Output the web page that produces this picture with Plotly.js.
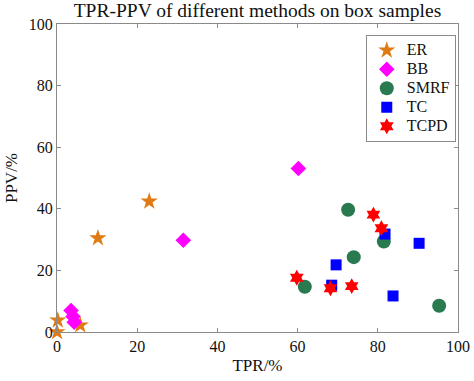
<!DOCTYPE html>
<html><head><meta charset="utf-8">
<script src="https://cdn.plot.ly/plotly-3.0.1.min.js"></script>
<style>html,body{margin:0;padding:0;background:#fff;}#chart{width:474px;height:381px;}</style>
</head><body><div id="chart"></div>
<script>
const seriesNames = ["ER", "BB", "SMRF", "TC", "TCPD"];
const erX = [0, 0.2, 5.8, 10.2, 23.0];
const erY = [0, 3.8, 2.2, 30.5, 42.4];
const bbX = [3.5, 4.0, 4.3, 31.5, 60.2];
const bbY = [7.0, 5.0, 3.2, 29.8, 53.1];
const smrfX = [72.6, 81.5, 74.0, 61.8, 95.3];
const smrfY = [39.7, 29.4, 24.3, 14.7, 8.5];
const tcX = [81.8, 90.3, 69.6, 68.5, 83.8];
const tcY = [31.8, 28.8, 21.8, 15.2, 11.7];
const tcpdX = [78.9, 80.9, 59.8, 68.2, 73.5];
const tcpdY = [38.1, 33.7, 17.6, 14.2, 14.9];
const tickVals = [0, 20, 40, 60, 80, 100];

const font = "'Liberation Serif', 'Times New Roman', serif";
const lg = (s) => '<span style="font-size:16px">' + s + '</span>';
const traces = [
  {x: erX, y: erY, name: lg(seriesNames[0]), mode: "markers", type: "scatter", cliponaxis: false,
   marker: {symbol: "star", size: 13, color: "#E07A12", line: {width: 0}}},
  {x: bbX, y: bbY, name: lg(seriesNames[1]), mode: "markers", type: "scatter", cliponaxis: false,
   marker: {symbol: "diamond", size: 12, color: "#FF00FF", line: {width: 0}}},
  {x: smrfX, y: smrfY, name: lg(seriesNames[2]), mode: "markers", type: "scatter", cliponaxis: false,
   marker: {symbol: "circle", size: 14, color: "#2A7A50", line: {width: 0}}},
  {x: tcX, y: tcY, name: lg(seriesNames[3]), mode: "markers", type: "scatter", cliponaxis: false,
   marker: {symbol: "square", size: 11, color: "#0000FF", line: {width: 0}}},
  {x: tcpdX, y: tcpdY, name: lg(seriesNames[4]), mode: "markers", type: "scatter", cliponaxis: false,
   marker: {symbol: "hexagram", size: 12, color: "#FF0000", line: {width: 0}}}
];
const axisCommon = {
  range: [0, 100], tickvals: tickVals, ticktext: tickVals.map(String),
  showgrid: false, zeroline: false, showline: true, linecolor: "#8a8a8a", linewidth: 1,
  mirror: "ticks", ticks: "inside", ticklen: 4, tickcolor: "#8a8a8a",
  tickfont: {family: font, size: 16, color: "#111"}
};
const layout = {
  width: 474, height: 381,
  margin: {l: 57, r: 16, t: 24, b: 49},
  paper_bgcolor: "#fff", plot_bgcolor: "#fff",
  title: {text: "TPR-PPV of different methods on box samples", font: {family: font, size: 19.5, color: "#111"},
          xref: "paper", x: 0.5, xanchor: "center", y: 0.99, yanchor: "top"},
  xaxis: Object.assign({}, axisCommon, {title: {text: "TPR/%", font: {family: font, size: 17, color: "#111"}, standoff: 4}}),
  yaxis: Object.assign({}, axisCommon, {title: {text: "PPV/%", font: {family: font, size: 17, color: "#111"}, standoff: 6}}),
  showlegend: true,
  legend: {x: 0.77, y: 0.965, xanchor: "left", yanchor: "top", bgcolor: "#fff",
           bordercolor: "#8a8a8a", borderwidth: 1, font: {family: font, size: 12, color: "#111"},
           itemwidth: 30, tracegroupgap: 0}
};
Plotly.newPlot("chart", traces, layout, {displayModeBar: false, staticPlot: true});
</script></body></html>
